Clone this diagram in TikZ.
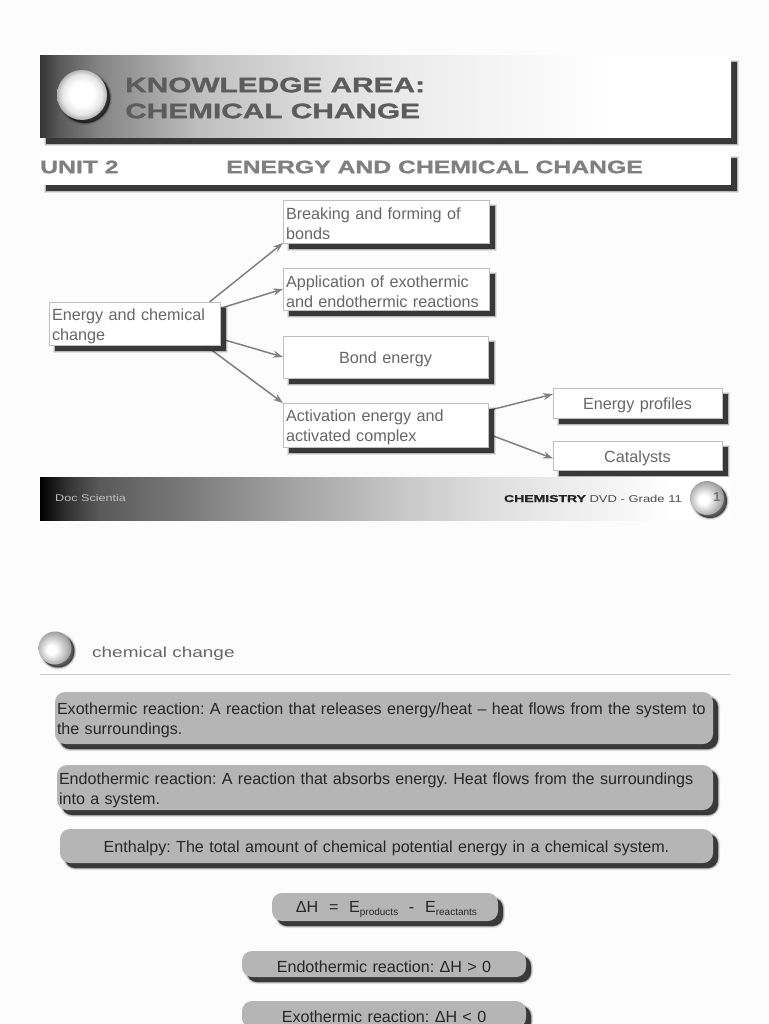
\documentclass[tikz,border=0pt]{standalone}
\usepackage{fontspec}
\setmainfont{Liberation Sans}
\newfontfamily\headfont[FakeStretch=1.42,FakeBold=1.5]{Liberation Sans Bold}
\newfontfamily\unitfont[FakeStretch=1.375,FakeBold=1.2]{Liberation Sans Bold}
\newfontfamily\chemfont[FakeStretch=1.4,FakeBold=1.2]{Liberation Sans Bold}
\newfontfamily\extreg[FakeStretch=1.3]{Liberation Sans}
\usetikzlibrary{shadows,arrows.meta}
\pgfdeclarelayer{edges}
\pgfsetlayers{edges,main}
\pgfdeclarehorizontalshading{hdrshade}{100bp}{
  color(0bp)=(black!80); color(25bp)=(black!80); color(26.4bp)=(black!65); color(29.3bp)=(black!48);
  color(36.6bp)=(black!25); color(43.8bp)=(black!15); color(51bp)=(black!8); color(58.3bp)=(black!4); color(66bp)=(white); color(100bp)=(white)}
\pgfdeclarehorizontalshading{footshade}{100bp}{
  color(0bp)=(black); color(25bp)=(black); color(27bp)=(black!80); color(29.3bp)=(black!65); color(36.6bp)=(black!50);
  color(43.8bp)=(black!35); color(51bp)=(black!22); color(58.3bp)=(black!12); color(65.5bp)=(black!5); color(71bp)=(white); color(100bp)=(white)}
\pgfdeclareradialshading{ballshade}{\pgfpoint{0bp}{1bp}}{
  color(0bp)=(white); color(12bp)=(white); color(20bp)=(black!10); color(25bp)=(black!30); color(50bp)=(black!35)}
\pgfdeclareradialshading{ballshadeb}{\pgfpoint{-6bp}{-3bp}}{
  color(0bp)=(white); color(7bp)=(white); color(20bp)=(black!25); color(30bp)=(black!45); color(50bp)=(black!50)}
\definecolor{pillgray}{gray}{0.71}
\definecolor{txtgray}{gray}{0.40}
\definecolor{headgray}{gray}{0.36}
\definecolor{unitgray}{gray}{0.50}
\tikzset{
  softshadow/.style={
    general shadow={shadow xshift=#1,shadow yshift=-#1,fill=black,draw=black,line width=4pt,opacity=.10},
    general shadow={shadow xshift=#1,shadow yshift=-#1,fill=black,draw=black,line width=2pt,opacity=.18},
    general shadow={shadow xshift=#1,shadow yshift=-#1,fill=black!80,opacity=.95}},
  ballshadow/.style={
    general shadow={shadow xshift=#1,shadow yshift=-#1,fill=black,draw=black,line width=4pt,opacity=.10},
    general shadow={shadow xshift=#1,shadow yshift=-#1,fill=black,draw=black,line width=2pt,opacity=.20},
    general shadow={shadow xshift=#1,shadow yshift=-#1,fill=black,opacity=.5}},
  flowbox/.style={softshadow=6pt,rectangle,draw=black!25,line width=.7pt,fill=white,outer sep=0pt,inner xsep=3pt,inner ysep=0pt,
    align=left,text=txtgray,font=\fontsize{16.2}{20}\selectfont\frenchspacing,execute at begin node=\rule{0pt}{17pt}},
  flowmid/.style={flowbox,align=center},
  pill/.style={softshadow=5pt,rectangle,rounded corners=10pt,fill=pillgray,outer sep=0pt,inner xsep=2pt,inner ysep=0pt,
    align=left,text=black!85,font=\fontsize{16.1}{20}\selectfont\frenchspacing,execute at begin node=\rule{0pt}{16.5pt}},
  pillmid/.style={pill,align=center},
  pilllow/.style={pillmid,execute at begin node=\rule{0pt}{14.5pt}},
  flowarrow/.style={draw=black!50,line width=1.5pt,-{Stealth[length=10pt,width=7pt]}},
  headtext/.style={anchor=west,inner sep=0pt,text=headgray,font=\fontsize{21}{26}\selectfont\headfont},
  unittext/.style={anchor=west,inner sep=0pt,text=unitgray,font=\fontsize{18}{22}\selectfont\unitfont},
  ball/.style={circle,inner sep=0pt,outer sep=0pt,draw=none,minimum size=#1},
}
\begin{document}
\begin{tikzpicture}[x=1pt,y=-1pt]
\useasboundingbox (0,0) rectangle (768,1024);
\begin{pgfonlayer}{edges}
\fill[black!1] (0,0) rectangle (768,1024);
\end{pgfonlayer}
% banner
\node[softshadow=6pt,rectangle,shading=hdrshade,minimum width=691pt,minimum height=82pt,inner sep=0pt,outer sep=0pt] (banner) at (385.5,97) {};
\node[softshadow=6pt,rectangle,fill=white,minimum width=691pt,minimum height=33pt,inner sep=0pt,outer sep=0pt] (unitbar) at (385.5,168.5) {};
\node[ball=50pt,shading=ballshade,ballshadow=3pt] (ballA) at (82,95) {};
\node[headtext] (h1) at (125,85) {KNOWLEDGE AREA:};
\node[headtext] (h2) at (125,111) {CHEMICAL CHANGE};
\node[unittext] (u1) at (40,167) {UNIT 2};
\node[unittext] (u2) at (226,167) {ENERGY AND CHEMICAL CHANGE};
% flow boxes
\node[flowbox,text width=165pt,minimum width=171pt,minimum height=43pt] (e) at (134.5,323.5) {Energy and chemical\\change};
\node[flowbox,text width=200pt,minimum width=206pt,minimum height=43pt] (b1) at (386,221.5) {Breaking and forming of\\bonds};
\node[flowbox,text width=200pt,minimum width=206pt,minimum height=42pt] (b2) at (386,289) {Application of exothermic\\and endothermic reactions};
\node[flowmid,text width=199pt,minimum width=205pt,minimum height=42pt] (b3) at (385.5,357) {Bond energy};
\node[flowbox,text width=199pt,minimum width=205pt,minimum height=44pt] (b4) at (385.5,425) {Activation energy and\\activated complex};
\node[flowmid,text width=163pt,minimum width=169pt,minimum height=30pt] (p) at (637.5,403) {Energy profiles};
\node[flowmid,text width=163pt,minimum width=169pt,minimum height=29pt] (c) at (637.5,455.5) {Catalysts};
\begin{pgfonlayer}{edges}
\draw[flowarrow] (e.16.5) -- (b1.south west);
\draw[flowarrow] (e.10) -- (b2.west);
\draw[flowarrow] (e.-10) -- (b3.west);
\draw[flowarrow] (e.-17) -- (b4.north west);
\draw[flowarrow] (b4.8) -- (p.174.6);
\draw[flowarrow] (b4.-5) -- (c.182.4);
\end{pgfonlayer}
% footer
\node[rectangle,shading=footshade,minimum width=691pt,minimum height=43pt,inner sep=0pt,outer sep=0pt] (foot) at (385.5,498.5) {};
\node[anchor=west,inner sep=0pt,text=black!25,font=\fontsize{9.7}{11}\selectfont\extreg] (doc) at (55,498.5) {Doc Scientia};
\node[anchor=east,inner sep=0pt,text=black!70,font=\fontsize{10}{12}\selectfont\extreg] (dvd) at (682,498.5) {{\chemfont\textcolor{black!85}{CHEMISTRY}} DVD - Grade 11};
\node[ball=34pt,shading=ballshadeb,ballshadow=3pt] (ballB) at (707,498) {};
\node[inner sep=0pt,text=black!55,font=\fontsize{13}{14}\selectfont\bfseries] (pg) at (717,497) {1};
% second page
\node[ball=33pt,shading=ballshadeb,ballshadow=3pt] (ballC) at (55,648) {};
\node[anchor=west,inner sep=0pt,text=txtgray,font=\fontsize{14.6}{18}\selectfont\extreg] (sec) at (92,654) {chemical change};
\coordinate (ruleL) at (40,674);
\coordinate (ruleR) at (730,674);
\draw[black!22,line width=.8pt] (ruleL) -- (ruleR);
% pills
\node[pill,text width=654pt,minimum width=658pt,minimum height=52pt] (p1) at (384,718) {Exothermic reaction: A reaction that releases energy/heat – heat flows from the system to\\the surroundings.};
\node[pill,text width=652pt,minimum width=656pt,minimum height=45pt] (p2) at (385,787.5) {Endothermic reaction: A reaction that absorbs energy. Heat flows from the surroundings\\into a system.};
\node[pillmid,text width=649pt,minimum width=653pt,minimum height=34pt] (p3) at (386.5,846) {Enthalpy: The total amount of chemical potential energy in a chemical system.};
\node[pillmid,text width=222pt,minimum width=226pt,minimum height=28pt] (p4) at (385,907) {$\,$ΔH\ \ =\ \ E\raisebox{-3pt}{\fontsize{10}{10}\selectfont products}\ \ -\ \ E\raisebox{-3pt}{\fontsize{10}{10}\selectfont reactants}};
\node[pilllow,text width=280pt,minimum width=284pt,minimum height=26pt] (p5) at (384,964) {Endothermic reaction: ΔH > 0};
\node[pilllow,text width=280pt,minimum width=284pt,minimum height=27pt] (p6) at (384,1014.5) {Exothermic reaction: ΔH < 0};
\end{tikzpicture}
\end{document}
